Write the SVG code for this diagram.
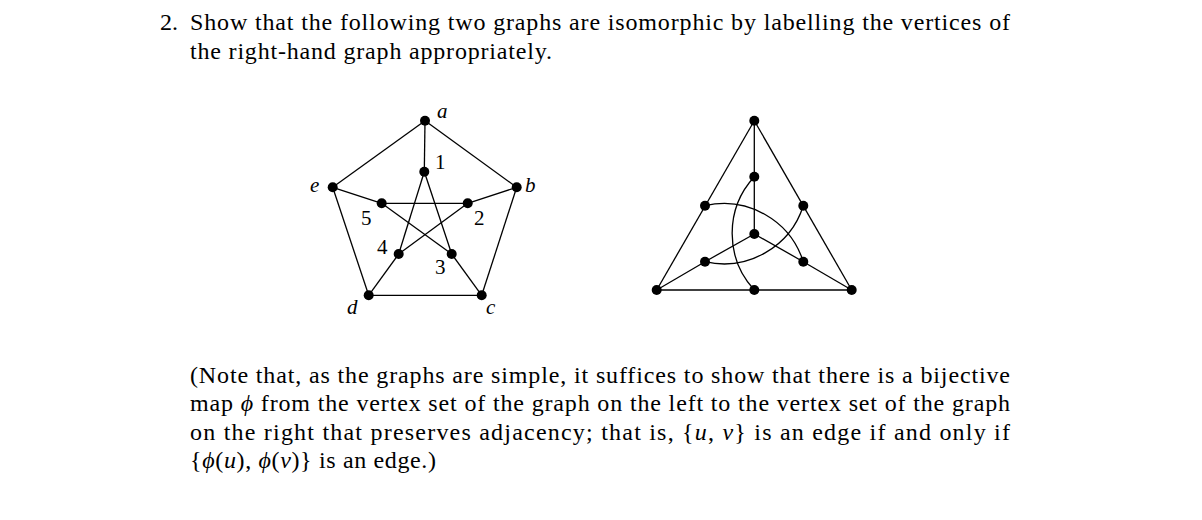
<svg xmlns="http://www.w3.org/2000/svg" width="1202" height="520" viewBox="0 0 1202 520">
<style>
text{font-family:"Liberation Serif","DejaVu Serif",serif;font-size:24px;fill:#000}
.m{font-style:italic}
.l{font-size:21px}
line,path{stroke:#000;stroke-width:1.3;fill:none}
circle{fill:#000}
</style>
<rect width="1202" height="520" fill="#fff"/>
<text x="160" y="30">2.</text>
<text x="190" y="30" textLength="820" lengthAdjust="spacing">Show that the following two graphs are isomorphic by labelling the vertices of</text>
<text x="190" y="59" textLength="362" lengthAdjust="spacing">the right-hand graph appropriately.</text>
<g id="connectors">
<line x1="425" y1="120.7" x2="332.7" y2="187.3"/>
<line x1="425" y1="120.7" x2="516.7" y2="187.3"/>
<line x1="332.7" y1="187.3" x2="368.7" y2="295.3"/>
<line x1="516.7" y1="187.3" x2="481.7" y2="295.3"/>
<line x1="368.7" y1="295.3" x2="481.7" y2="295.3"/>
<line x1="425" y1="120.7" x2="424.3" y2="171.7"/>
<line x1="332.7" y1="187.3" x2="381.7" y2="203.3"/>
<line x1="516.7" y1="187.3" x2="467.7" y2="203.3"/>
<line x1="368.7" y1="295.3" x2="398.7" y2="254"/>
<line x1="481.7" y1="295.3" x2="451.7" y2="254"/>
<line x1="424.3" y1="171.7" x2="398.7" y2="254"/>
<line x1="424.3" y1="171.7" x2="451.7" y2="254"/>
<line x1="381.7" y1="203.3" x2="467.7" y2="203.3"/>
<line x1="381.7" y1="203.3" x2="451.7" y2="254"/>
<line x1="467.7" y1="203.3" x2="398.7" y2="254"/>
<line x1="754.3" y1="120.7" x2="656.7" y2="290"/>
<line x1="754.3" y1="120.7" x2="851.7" y2="290"/>
<line x1="656.7" y1="290" x2="851.7" y2="290"/>
<line x1="754.3" y1="120.7" x2="754.3" y2="234"/>
<line x1="754.3" y1="234" x2="705" y2="261.7"/>
<line x1="754.3" y1="234" x2="803.3" y2="261.7"/>
<line x1="705" y1="261.7" x2="656.7" y2="290"/>
<line x1="803.3" y1="261.7" x2="851.7" y2="290"/>
<path d="M754.3 176.7 A83.5 83.5 0 0 0 754.3 290"/>
<path d="M705 205.7 A83.5 83.5 0 0 1 803.3 261.7"/>
<path d="M803.3 205.7 A83.5 83.5 0 0 1 705 261.7"/>
</g>
<g id="n-a"><circle cx="425" cy="120.7" r="5"/><text class="m l" x="437" y="118">a</text></g>
<g id="n-1"><circle cx="424.3" cy="171.7" r="5"/><text class="l" x="435" y="169">1</text></g>
<g id="n-e"><circle cx="332.7" cy="187.3" r="5"/><text class="m l" x="310" y="192">e</text></g>
<g id="n-b"><circle cx="516.7" cy="187.3" r="5"/><text class="m l" x="525" y="192">b</text></g>
<g id="n-5"><circle cx="381.7" cy="203.3" r="5"/><text class="l" x="361" y="225">5</text></g>
<g id="n-2"><circle cx="467.7" cy="203.3" r="5"/><text class="l" x="474" y="225">2</text></g>
<g id="n-4"><circle cx="398.7" cy="254" r="5"/><text class="l" x="377" y="254">4</text></g>
<g id="n-3"><circle cx="451.7" cy="254" r="5"/><text class="l" x="435" y="274">3</text></g>
<g id="n-d"><circle cx="368.7" cy="295.3" r="5"/><text class="m l" x="347" y="314">d</text></g>
<g id="n-c"><circle cx="481.7" cy="295.3" r="5"/><text class="m l" x="486" y="314">c</text></g>
<g id="r1"><circle cx="754.3" cy="120.7" r="5"/></g>
<g id="r2"><circle cx="754.3" cy="176.7" r="5"/></g>
<g id="r3"><circle cx="705" cy="205.7" r="5"/></g>
<g id="r4"><circle cx="803.3" cy="205.7" r="5"/></g>
<g id="r5"><circle cx="754.3" cy="234" r="5"/></g>
<g id="r6"><circle cx="705" cy="261.7" r="5"/></g>
<g id="r7"><circle cx="803.3" cy="261.7" r="5"/></g>
<g id="r8"><circle cx="656.7" cy="290" r="5"/></g>
<g id="r9"><circle cx="754.3" cy="290" r="5"/></g>
<g id="r10"><circle cx="851.7" cy="290" r="5"/></g>
<text x="190" y="383" textLength="820" lengthAdjust="spacing">(Note that, as the graphs are simple, it suffices to show that there is a bijective</text>
<text x="190" y="411" textLength="820" lengthAdjust="spacing">map <tspan class="m">ϕ</tspan> from the vertex set of the graph on the left to the vertex set of the graph</text>
<text x="190" y="440" textLength="820" lengthAdjust="spacing">on the right that preserves adjacency; that is, {<tspan class="m">u</tspan>, <tspan class="m">v</tspan>} is an edge if and only if</text>
<text x="190" y="468" textLength="246" lengthAdjust="spacing">{<tspan class="m">ϕ</tspan>(<tspan class="m">u</tspan>), <tspan class="m">ϕ</tspan>(<tspan class="m">v</tspan>)} is an edge.)</text>
</svg>
